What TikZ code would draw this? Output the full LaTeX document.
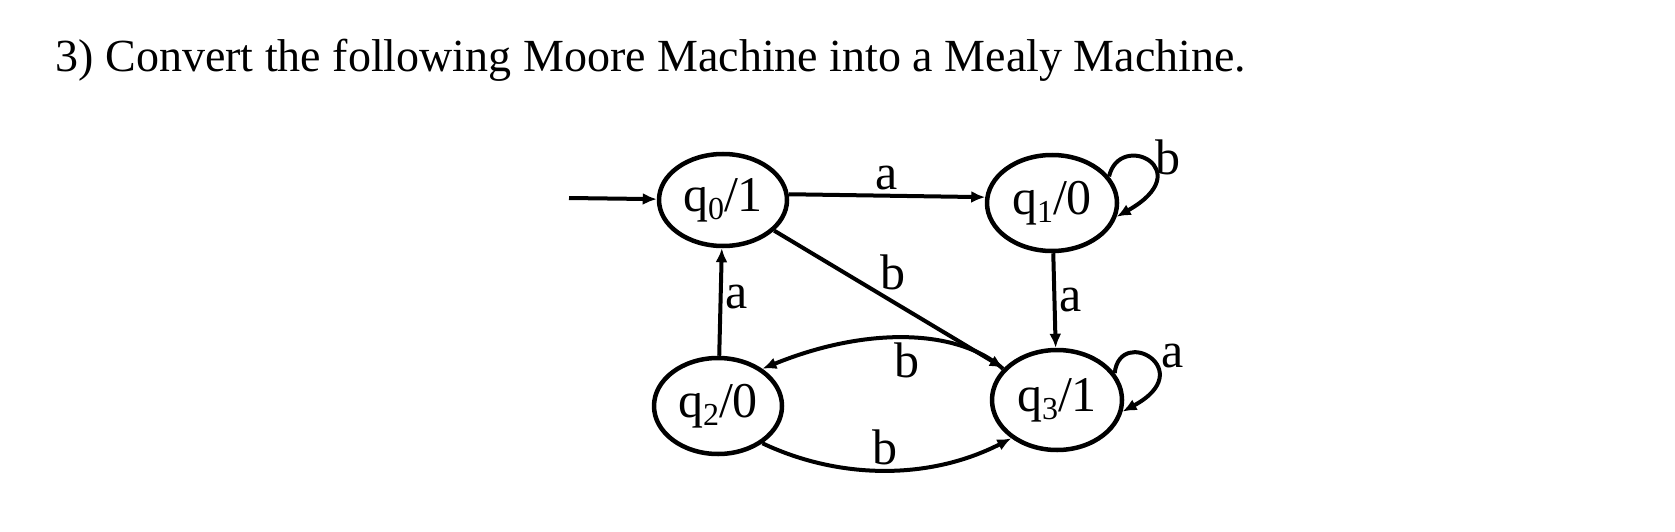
\documentclass[tikz,border=0pt]{standalone}
\usepackage{fontspec}
\setmainfont{Liberation Serif}
\usetikzlibrary{arrows.meta,shapes.geometric}
\newcommand{\sbs}[1]{\raisebox{-8pt}{\fontsize{32}{32}\selectfont #1}}
\begin{document}
\begin{tikzpicture}[x=1pt,y=-1pt,
  st/.style={draw,ellipse,line width=4.5pt,inner sep=0pt,font=\fontsize{50}{50}\selectfont},
  ed/.style={line width=4pt,-{Latex[length=14pt,width=12pt]}},
  lb/.style={font=\fontsize{50}{50}\selectfont}]
\useasboundingbox (0,0) rectangle (1675,532);
\node[anchor=base west,font=\fontsize{46}{46}\selectfont] (t) at (52,72) {3) Convert the following Moore Machine into a Mealy Machine.};
\node[st,minimum width=128pt,minimum height=92pt] (q0) at (723,200) {q\sbs{0}/1};
\node[st,minimum width=130pt,minimum height=96pt] (q1) at (1052,203) {q\sbs{1}/0};
\node[st,minimum width=128pt,minimum height=96pt] (q2) at (718,406) {q\sbs{2}/0};
\node[st,minimum width=130pt,minimum height=100pt] (q3) at (1057,400) {q\sbs{3}/1};
\coordinate (s) at (569,198);
\draw[ed] (s) -- (q0);
\draw[ed] (q0.5) -- node[lb,above]{a} (q1.175);
\draw[ed] (q0) -- node[lb,above right,pos=0.45,inner sep=1pt]{b} (q3);
\draw[ed] (q2) -- node[lb,right,pos=0.55]{a} (q0);
\draw[ed] (q1) -- node[lb,right]{a} (q3);
\draw[ed] (q3.150) .. controls (960,330) and (870,325) .. node[lb,below,pos=0.5]{b} (q2.40);
\draw[ed] (q2.-40) .. controls (840,480) and (930,480) .. node[lb,above,pos=0.5]{b} (q3.-140);
\draw[ed] (q1.25) .. controls (1120,130) and (1200,170) .. node[lb,right=10pt,pos=0.4]{b} (q1.-12);
\draw[ed] (q3.25) .. controls (1120,325) and (1200,370) .. node[lb,right=10pt,pos=0.45]{a} (q3.-10);
\end{tikzpicture}
\end{document}
